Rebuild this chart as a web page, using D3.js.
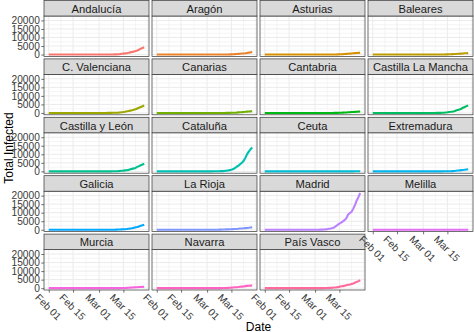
<!DOCTYPE html>
<html><head><meta charset="utf-8">
<script src="https://cdn.jsdelivr.net/npm/d3@7"></script>
<style>body{margin:0;background:#fff}svg{display:block}</style>
</head><body>
<svg id="c" width="474" height="332"></svg>
<script>
// ---------------- data ----------------
const startDate = "2020-02-01";
const endDate = "2020-03-27";
const xTicks = ["2020-02-01", "2020-02-15", "2020-03-01", "2020-03-15"];
const yTicks = [0, 5000, 10000, 15000, 20000];
const regions = ["Andalucía", "Aragón", "Asturias", "Baleares", "C. Valenciana", "Canarias",
  "Cantabria", "Castilla La Mancha", "Castilla y León", "Cataluña", "Ceuta", "Extremadura",
  "Galicia", "La Rioja", "Madrid", "Melilla", "Murcia", "Navarra", "País Vasco"];

// daily cumulative cases, Feb 01 .. Mar 27 (56 values each)
const andalucia = [0,0,0,0,0,0,0,0,0,0,0,0,0,0,0,0,0,0,0,0,0,0,0,0, 0,0,1,1,6, 12,12,13,13,13,21,27,54,71,90, 115,219,269,437,554,683,786,1010,1287,1515, 1725,2033,2393,2929,3460,3793,4277];
const aragon = [0,0,0,0,0,0,0,0,0,0,0,0,0,0,0,0,0,0,0,0,0,0,0,0, 0,0,1,1,1, 1,1,1,1,1,1,2,3,8,13, 23,40,64,97,128,180,240,310,388,470, 580,650,790,960,1130,1300,1500];
const asturias = [0,0,0,0,0,0,0,0,0,0,0,0,0,0,0,0,0,0,0,0,0,0,0,0, 0,0,0,0,0, 0,0,1,1,2,5,6,12,18,23, 34,52,78,112,160,204,249,325,400,475, 575,643,760,830,907,1000,1100];
const baleares = [0,0,0,0,0,0,0,0,1,1,1,1,1,1,1,1,1,1,1,1,1,1,1,1, 1,1,1,2,2, 2,2,2,4,5,6,6,7,11,16, 20,31,52,85,109,143,187,238,290,363, 436,488,572,658,725,800,860];
const cValenciana = [0,0,0,0,0,0,0,0,0,0,0,0,0,0,0,0,0,0,0,0,0,0,0,0, 0,0,1,1,2, 3,8,13,15,19,30,37,76,100,116, 156,223,317,429,560,745,962,1127,1363,1604, 1907,2167,2616,3087,3532,3944,4400];
const canarias = [1,1,1,1,1,1,1,1,1,1,1,1,1,1,1,1,1,1,1,1,1,1,1,1, 3,4,6,6,7, 7,7,7,7,8,9,10,11,12,16, 20,26,41,64,90,129,147,220,349,419, 497,602,666,784,876,950,1000];
const cantabria = [0,0,0,0,0,0,0,0,0,0,0,0,0,0,0,0,0,0,0,0,0,0,0,0, 0,0,0,0,0, 0,1,1,1,1,2,3,10,12,14, 19,24,34,59,82,122,180,250,300,376, 450,520,580,660,730,790,850];
const castillaLaMancha = [0,0,0,0,0,0,0,0,0,0,0,0,0,0,0,0,0,0,0,0,0,0,0,0, 0,0,0,0,0, 0,0,3,6,7,12,13,18,26,39, 70,115,169,289,401,567,673,804,1044,1423, 1819,2078,2465,3100,3543,4000,4400];
const castillaYLeon = [0,0,0,0,0,0,0,0,0,0,0,0,0,0,0,0,0,0,0,0,0,0,0,0, 0,0,1,1,2, 2,3,3,4,5,11,14,18,30,45, 84,143,237,337,430,570,696,862,1191,1466, 1744,2011,2600,3100,3600,4000,4500];
const cataluna = [0,0,0,0,0,0,0,0,0,0,0,0,0,0,0,0,0,0,0,0,0,0,0,0, 1,1,2,3,6, 12,15,15,15,24,49,75,101,124,157, 260,316,509,715,903,1394,1866,2702,3270,4203, 4950,6100,7864,9937,11592,12940,14000];
const ceuta = [0,0,0,0,0,0,0,0,0,0,0,0,0,0,0,0,0,0,0,0,0,0,0,0, 0,0,0,0,0, 0,0,0,0,0,0,0,0,0,0, 0,0,1,1,1,1,2,4,5,8, 10,14,17,24,30,38,45];
const extremadura = [0,0,0,0,0,0,0,0,0,0,0,0,0,0,0,0,0,0,0,0,0,0,0,0, 0,0,0,0,0, 0,0,0,0,2,6,6,6,6,7, 11,16,26,32,37,49,79,151,237,383, 480,583,718,802,941,1080,1200];
const galicia = [0,0,0,0,0,0,0,0,0,0,0,0,0,0,0,0,0,0,0,0,0,0,0,0, 0,0,0,0,0, 0,0,0,1,3,4,6,18,22,35, 85,115,195,245,292,341,437,578,739,915, 1208,1415,1653,1976,2322,2600,2944];
const laRioja = [0,0,0,0,0,0,0,0,0,0,0,0,0,0,0,0,0,0,0,0,0,0,0,0, 0,0,0,0,0, 0,0,2,6,10,11,29,76,102,145, 179,205,252,278,300,364,417,480,608,698, 780,850,950,1050,1150,1280,1400];
const madrid = [0,0,0,0,0,0,0,0,0,0,0,0,0,0,0,0,0,0,0,0,0,0,0,0, 0,0,1,3,6, 10,29,49,70,90,137,202,358,577,782, 1024,1388,2078,2940,3544,4165,4871,5637,6777,8921, 9702,10575,12352,14597,17166,19243,21520];
const melilla = [0,0,0,0,0,0,0,0,0,0,0,0,0,0,0,0,0,0,0,0,0,0,0,0, 0,0,0,0,0, 0,0,0,0,0,0,0,0,0,0, 1,1,1,2,5,8,10,12,14,18, 21,26,28,31,35,37,40];
const murcia = [0,0,0,0,0,0,0,0,0,0,0,0,0,0,0,0,0,0,0,0,0,0,0,0, 0,0,0,0,0, 0,0,0,0,0,1,1,4,8,11, 13,21,36,60,95,140,193,240,320,386, 466,505,576,642,710,780,850];
const navarra = [0,0,0,0,0,0,0,0,0,0,0,0,0,0,0,0,0,0,0,0,0,0,0,0, 0,0,0,0,0, 0,0,1,2,3,3,3,6,26,55, 67,121,159,217,297,378,494,550,668,810, 910,1014,1197,1317,1411,1500,1600];
const paisVasco = [0,0,0,0,0,0,0,0,0,0,0,0,0,0,0,0,0,0,0,0,0,0,0,0, 0,0,0,0,0, 0,0,1,5,13,45,90,119,149,195, 279,354,417,630,764,1097,1190,1465,1725,1970, 2097,2421,2728,3271,3681,4100,4600];

const series = [andalucia, aragon, asturias, baleares, cValenciana, canarias, cantabria,
  castillaLaMancha, castillaYLeon, cataluna, ceuta, extremadura, galicia, laRioja, madrid,
  melilla, murcia, navarra, paisVasco];

// ---------------- colours (ggplot2 hue palette, polar LUV) ----------------
function hclLuv(h, c, l) {
  const hr = h * Math.PI / 180, U = c * Math.cos(hr), V = c * Math.sin(hr);
  const Xn = 95.047, Yn = 100, Zn = 108.883;
  const Y = Yn * (l > 8 ? Math.pow((l + 16) / 116, 3) : l / 903.3);
  const t = Xn + 15 * Yn + 3 * Zn, un = 4 * Xn / t, vn = 9 * Yn / t;
  const u = U / (13 * l) + un, v = V / (13 * l) + vn;
  const X = 9 * Y * u / (4 * v), Z = -X / 3 - 5 * Y + 3 * Y / v;
  const x = X / 100, y = Y / 100, z = Z / 100;
  const lin = [3.240479 * x - 1.537150 * y - 0.498535 * z,
    -0.969256 * x + 1.875992 * y + 0.041556 * z,
    0.055648 * x - 0.204043 * y + 1.057311 * z];
  const g = q => { q = Math.max(0, Math.min(1, q)); return q <= 0.0031308 ? 12.92 * q : 1.055 * Math.pow(q, 1 / 2.4) - 0.055; };
  return d3.rgb(...lin.map(q => Math.round(g(q) * 255))).formatHex();
}
const colors = regions.map((_, i) => hclLuv(15 + i * 360 / regions.length, 100, 65));

// ---------------- layout ----------------
const W = 474, H = 332;
const FONT = "'Liberation Sans', Arial, Helvetica, sans-serif";
const svg = d3.select("#c");
svg.append("rect").attr("width", W).attr("height", H).attr("fill", "#fff");

const nCol = 4, panelW = 105, colPitch = 108, left0 = 44;
const rowPitch = 58.4, stripH = 15.5, panelH = 40.4, top0 = 0.5;

const parse = d3.utcParse("%Y-%m-%d");
const t0 = parse(startDate), t1 = parse(endDate);
const dates = d3.utcDay.range(t0, d3.utcDay.offset(t1, 1));
const span = t1 - t0;
const xDomain = [new Date(+t0 - 0.05 * span), new Date(+t1 + 0.05 * span)];
const maxV = d3.max(series, s => d3.max(s));
const yDomain = [-0.05 * maxV, maxV * 1.05];
const xTickDates = xTicks.map(parse);

// minor breaks (ggplot style: midpoints between majors, extended by one interval)
function minorBreaks(b, lim) {
  const bd = b[1] - b[0];
  let bb = b.slice();
  if (lim[0] < bb[0]) bb = [bb[0] - bd, ...bb];
  if (lim[1] > bb[bb.length - 1]) bb = [...bb, bb[bb.length - 1] + bd];
  const out = [];
  for (let i = 0; i < bb.length - 1; i++) out.push(bb[i], (bb[i] + bb[i + 1]) / 2);
  out.push(bb[bb.length - 1]);
  return out.filter(v => v >= lim[0] && v <= lim[1] && !b.includes(v));
}
const xMinor = minorBreaks(xTickDates.map(d => +d), xDomain.map(d => +d)).map(v => new Date(v));
const yMinor = minorBreaks(yTicks, yDomain);

const panelsG = svg.append("g");
const axesG = svg.append("g");

regions.forEach((name, i) => {
  const c = i % nCol, r = Math.floor(i / nCol);
  const x0 = left0 + c * colPitch;
  const st = top0 + r * rowPitch, pt = st + stripH, pb = pt + panelH;
  const x = d3.scaleUtc().domain(xDomain).range([x0, x0 + panelW]);
  const y = d3.scaleLinear().domain(yDomain).range([pb, pt]);
  const g = panelsG.append("g");

  g.append("rect").attr("x", x0).attr("y", pt).attr("width", panelW).attr("height", panelH).attr("fill", "#fff");
  // grid
  g.selectAll(".ymin").data(yMinor).join("line")
    .attr("x1", x0).attr("x2", x0 + panelW).attr("y1", d => y(d)).attr("y2", d => y(d))
    .attr("stroke", "#EBEBEB").attr("stroke-width", 0.5);
  g.selectAll(".xmin").data(xMinor).join("line")
    .attr("y1", pt).attr("y2", pb).attr("x1", d => x(d)).attr("x2", d => x(d))
    .attr("stroke", "#EBEBEB").attr("stroke-width", 0.5);
  g.selectAll(".ymaj").data(yTicks).join("line")
    .attr("x1", x0).attr("x2", x0 + panelW).attr("y1", d => y(d)).attr("y2", d => y(d))
    .attr("stroke", "#EBEBEB").attr("stroke-width", 1);
  g.selectAll(".xmaj").data(xTickDates).join("line")
    .attr("y1", pt).attr("y2", pb).attr("x1", d => x(d)).attr("x2", d => x(d))
    .attr("stroke", "#EBEBEB").attr("stroke-width", 1);

  // line
  const pts = series[i].map((v, k) => ({ date: dates[k], v }));
  g.append("path").datum(pts)
    .attr("d", d3.line().x(d => x(d.date)).y(d => y(d.v)))
    .attr("fill", "none").attr("stroke", colors[i]).attr("stroke-width", 2.1)
    .attr("stroke-linejoin", "round");

  // border
  g.append("rect").attr("x", x0).attr("y", pt).attr("width", panelW).attr("height", panelH)
    .attr("fill", "none").attr("stroke", "#333333").attr("stroke-width", 0.7);
  // strip
  g.append("rect").attr("x", x0).attr("y", st).attr("width", panelW).attr("height", stripH)
    .attr("fill", "#D9D9D9").attr("stroke", "#333333").attr("stroke-width", 0.7);
  g.append("text").attr("x", x0 + panelW / 2).attr("y", st + stripH / 2 + 0.5)
    .attr("text-anchor", "middle").attr("dominant-baseline", "central")
    .attr("font-family", FONT).attr("font-size", 11.2).attr("fill", "#1A1A1A").text(name);

  // y axis (first column)
  if (c === 0) {
    const ay = axesG.append("g").attr("transform", `translate(${x0},0)`)
      .call(d3.axisLeft(y).tickValues(yTicks).tickSize(2.7).tickPadding(1.5).tickFormat(d3.format("d")));
    ay.select(".domain").remove();
    ay.selectAll("line").attr("stroke", "#333333").attr("stroke-width", 0.7);
    ay.selectAll("text").attr("fill", "#3A3A3A").attr("font-size", 10.2).attr("font-family", FONT);
  }
  // x axis (no panel below)
  if (i + nCol >= regions.length) {
    const ax = axesG.append("g").attr("transform", `translate(0,${pb})`)
      .call(d3.axisBottom(x).tickValues(xTickDates).tickSize(2.7).tickFormat(d3.utcFormat("%b %d")));
    ax.select(".domain").remove();
    ax.selectAll("line").attr("stroke", "#333333").attr("stroke-width", 0.7);
    ax.selectAll("text").attr("fill", "#3A3A3A").attr("font-size", 10.2).attr("font-family", FONT)
      .attr("y", 0).attr("dy", "0.35em").attr("text-anchor", "middle")
      .attr("transform", "translate(-1,17) rotate(45)");
  }
});

// axis titles
svg.append("text").attr("transform", "translate(9,148) rotate(-90)")
  .attr("text-anchor", "middle").attr("dominant-baseline", "central")
  .attr("font-family", FONT).attr("font-size", 12).attr("fill", "#000").text("Total Infected");
svg.append("text").attr("x", 258.5).attr("y", 330.5)
  .attr("text-anchor", "middle")
  .attr("font-family", FONT).attr("font-size", 12).attr("fill", "#000").text("Date");
</script>
</body></html>
